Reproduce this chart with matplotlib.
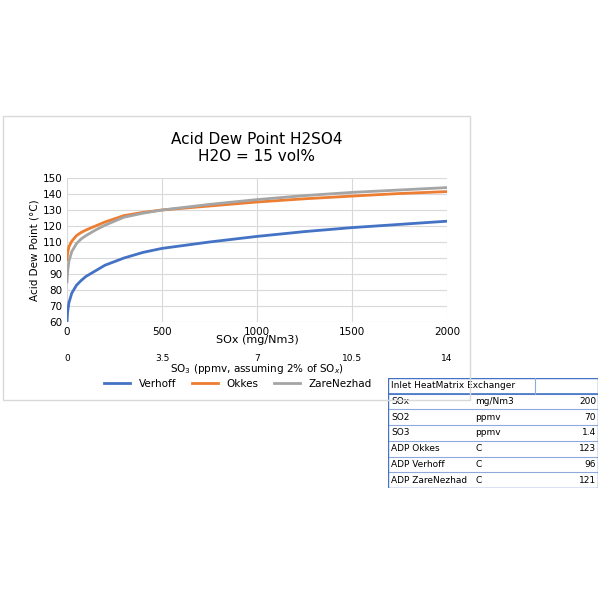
import matplotlib
matplotlib.use("Agg")
import matplotlib.pyplot as plt
from matplotlib.patches import Rectangle

sox = [0, 3, 10, 25, 50, 75, 100, 150, 200, 300, 400, 500, 750, 1000, 1250, 1500, 1750, 2000]
verhoff = [60, 66, 72, 78, 83, 86, 88.5, 92, 95.5, 100, 103.5, 106, 110, 113.5, 116.5, 119, 121, 123]
okkes = [99, 103, 107, 110.5, 114, 116, 117.5, 120, 122.5, 126.5, 128.5, 130, 132.5, 135, 137, 138.7, 140.3, 141.5]
zare = [85, 91, 98, 104, 109, 112, 114, 117.5, 120.5, 125.5, 128, 130, 133.5, 136.5, 139, 141, 142.5, 144]
table_rows = [["Inlet HeatMatrix Exchanger", "", ""],
              ["SOx", "mg/Nm3", "200"], ["SO2", "ppmv", "70"], ["SO3", "ppmv", "1.4"],
              ["ADP Okkes", "C", "123"], ["ADP Verhoff", "C", "96"], ["ADP ZareNezhad", "C", "121"]]

fig = plt.figure(figsize=(6, 6), dpi=100)
fig.patches.append(Rectangle((3/600, 1-400/600), 467/600, 284/600, transform=fig.transFigure,
                             fill=False, ec="#d9d9d9", lw=1))
ax = fig.add_axes([67/600, 1-322/600, 380/600, 144/600])
ax.plot(sox, verhoff, color="#4472c4", lw=2, label="Verhoff")
ax.plot(sox, okkes, color="#ed7d31", lw=2, label="Okkes")
ax.plot(sox, zare, color="#a5a5a5", lw=2, label="ZareNezhad")
ax.set_xlim(0, 2000); ax.set_ylim(60, 150)
ax.set_xticks([0, 500, 1000, 1500, 2000]); ax.set_yticks(range(60, 151, 10))
ax.grid(color="#d9d9d9", lw=0.8)
for s in ax.spines.values(): s.set_visible(False)
ax.tick_params(length=0, labelsize=7.5)
ax.set_xlabel("SOx (mg/Nm3)", fontsize=8, labelpad=-1)
ax.set_ylabel("Acid Dew Point (°C)", fontsize=7.5, labelpad=2)
ax.set_title("Acid Dew Point H2SO4\nH2O = 15 vol%", fontsize=11, pad=12)
sec = ax.secondary_xaxis(-0.19, functions=(lambda x: x*0.007, lambda x: x/0.007))
sec.set_xticks([0, 3.5, 7, 10.5, 14]); sec.set_xticklabels(["0", "3.5", "7", "10.5", "14"])
sec.tick_params(length=0, labelsize=6.5)
sec.spines["bottom"].set_visible(False)
sec.set_xlabel("SO$_3$ (ppmv, assuming 2% of SO$_x$)", fontsize=7.5, labelpad=-1)
ax.legend(loc="upper center", bbox_to_anchor=(0.45, -0.33), ncol=3, frameon=False, fontsize=7.5,
          handlelength=2.5, columnspacing=1.5)

tx = fig.add_axes([388/600, 1-488/600, 210/600, 110/600])
tx.set_xlim(388, 598); tx.set_ylim(488, 378); tx.axis("off")
n = len(table_rows); h = 110/n
for i, row in enumerate(table_rows):
    y0 = 378 + i*h
    tx.plot([388, 598], [y0, y0], color="#8ea9db", lw=0.8)
    tx.text(391, y0+h/2, row[0], fontsize=6.5, va="center")
    if i > 0:
        tx.text(475, y0+h/2, row[1], fontsize=6.5, va="center")
        tx.text(596, y0+h/2, row[2], fontsize=6.5, va="center", ha="right")
tx.plot([388, 598], [488, 488], color="#4472c4", lw=1)
tx.plot([388, 388], [378, 488], color="#4472c4", lw=1)
tx.plot([598, 598], [378, 488], color="#4472c4", lw=1)
tx.plot([388, 598], [378, 378], color="#4472c4", lw=1)
tx.plot([388, 598], [378+h, 378+h], color="#4472c4", lw=1.2)
tx.plot([535, 535], [378, 378+h], color="#8ea9db", lw=0.8)
fig.savefig("out.png", dpi=100)
